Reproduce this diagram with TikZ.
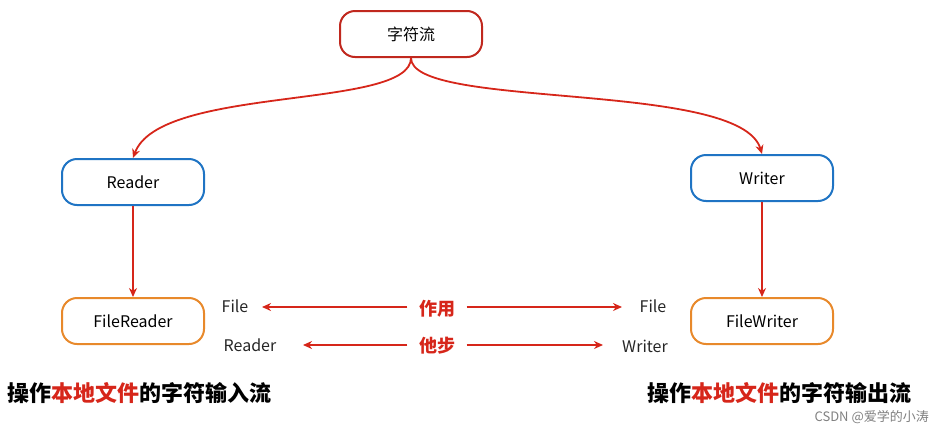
\documentclass[tikz,border=0pt]{standalone}
\usepackage{fontspec}
\setmainfont{Noto Sans CJK SC}
\usetikzlibrary{arrows.meta}
\definecolor{dred}{HTML}{C0281E}
\definecolor{ablue}{HTML}{1F74C4}
\definecolor{aorange}{HTML}{E8892B}
\definecolor{ared}{HTML}{D6261A}
\tikzset{
 box/.style={draw=#1,line width=2pt,rounded corners=15pt,minimum width=142pt,minimum height=46pt,font=\fontsize{16}{18}\selectfont,fill=white},
 conn/.style={draw=ared,line width=1.8pt,-{Stealth[length=9pt,width=8pt]}},
 lab/.style={font=\fontsize{16}{18}\selectfont,text=black!85},
 mid/.style={font=\fontsize{18}{20}\selectfont\bfseries,text=ared},
 big/.style={font=\fontsize{22}{24}\selectfont\bfseries,anchor=west}
}
\begin{document}
\begin{tikzpicture}[x=1pt,y=-1pt]
\useasboundingbox (0,0) rectangle (937,429);
\node[box=dred] (root) at (411,34) {字符流};
\node[box=ablue] (rd) at (133,182) {Reader};
\node[box=ablue] (wr) at (762,178) {Writer};
\node[box=aorange] (fr) at (133,321) {FileReader};
\node[box=aorange] (fw) at (762,321) {FileWriter};
\draw[conn] (root.south) .. controls (411,110) and (160,85) .. (rd.north);
\draw[conn] (root.south) .. controls (411,110) and (740,80) .. (wr.north);
\draw[conn] (rd) -- (fr);
\draw[conn] (wr) -- (fw);
\node[lab] (f1) at (235,306) {File};
\node[lab] (r1) at (250,345) {Reader};
\node[lab] (f2) at (653,306) {File};
\node[lab] (w2) at (645,346) {Writer};
\node[mid] (zy) at (437,309) {作用};
\node[mid] (tb) at (437,346) {他步};
\draw[conn] (zy.west) ++(-8,-2) -- (262,307);
\draw[conn] (zy.east) ++(8,-2) -- (622,307);
\draw[conn] (tb.west) ++(-8,-1) -- (303,345);
\draw[conn] (tb.east) ++(8,-1) -- (603,345);
\node[big] (bl) at (4,393) {操作{\color{ared}本地文件}的字符输入流};
\node[big] (br) at (644,393) {操作{\color{ared}本地文件}的字符输出流};
\node[font=\fontsize{13}{15}\selectfont,text=gray,anchor=east,inner sep=1pt] (wm) at (930,417) {CSDN @爱学的小涛};
\end{tikzpicture}
\end{document}
